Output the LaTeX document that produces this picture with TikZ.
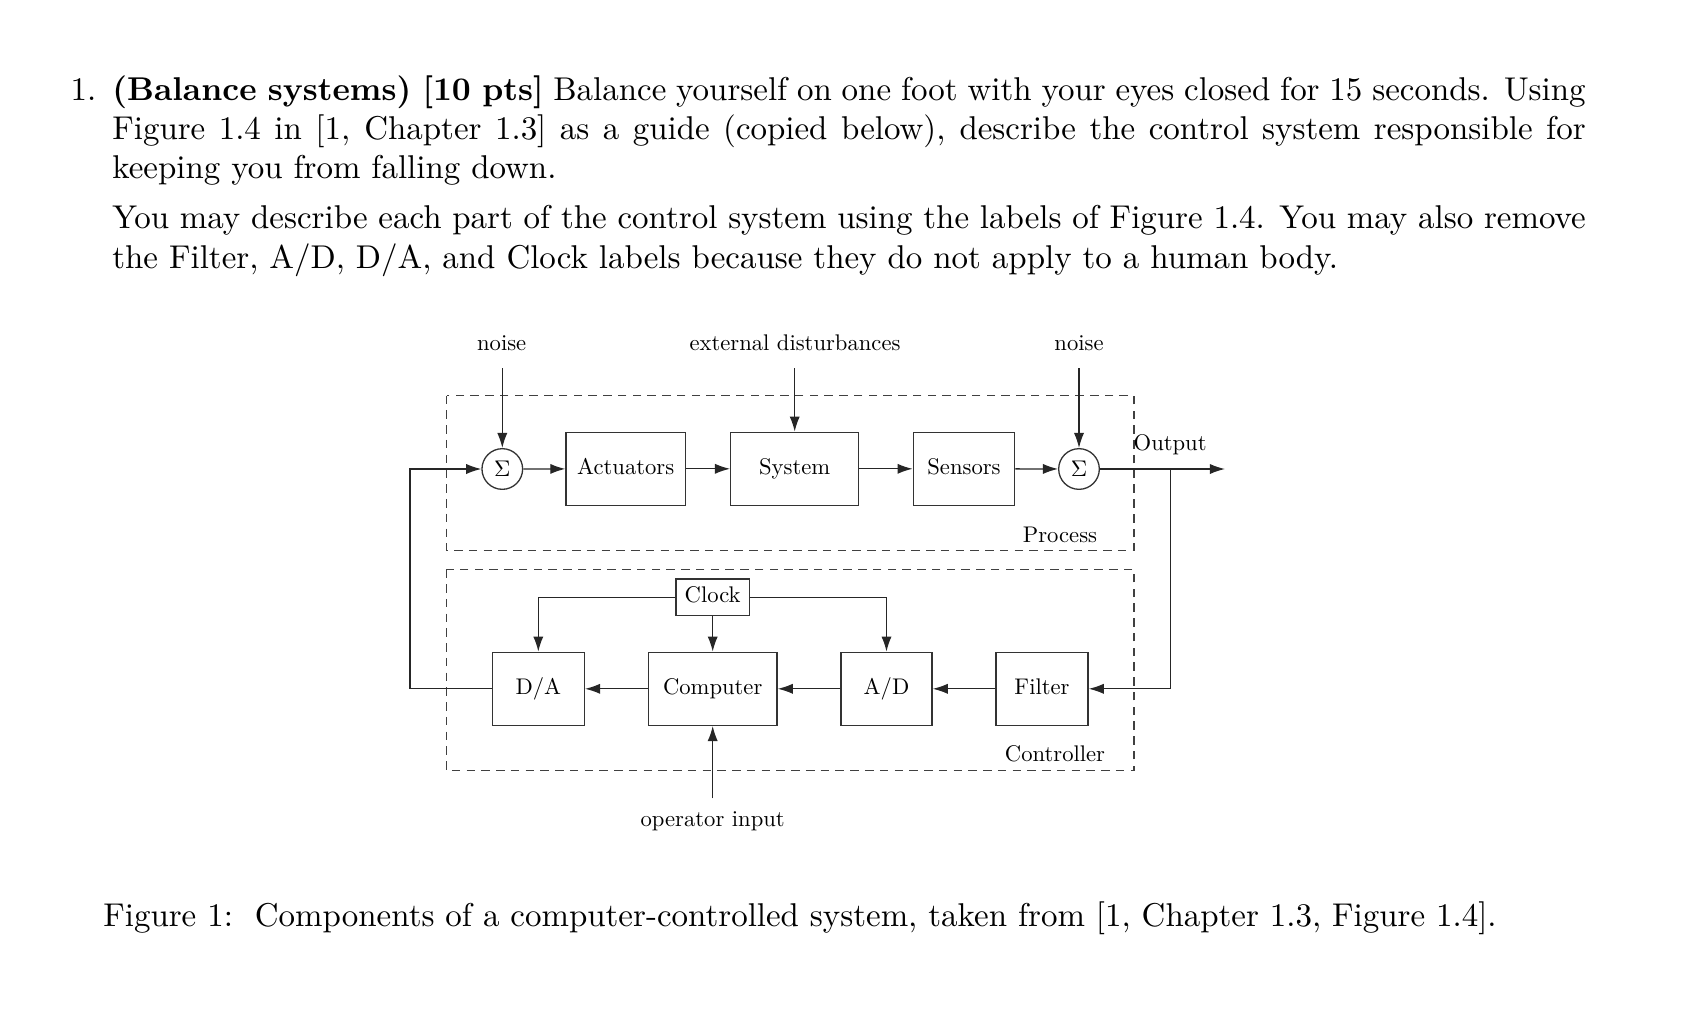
\documentclass[tikz,border=0pt]{standalone}
\usepackage{graphicx}
\usetikzlibrary{arrows.meta}
\newcommand{\dtext}[1]{\scalebox{0.69}{#1}}
\begin{document}
\begin{tikzpicture}[x=0.305pt,y=-0.305pt,
  line/.style={draw=black!85,line width=0.4pt},
  arr/.style={line,-{Latex[length=4.6pt,width=3.1pt]}},
  frame/.style={draw=black!75,line width=0.4pt,dash pattern=on 2.6pt off 1.9pt},
  blk/.style={draw=black!80,line width=0.4pt,rectangle,inner sep=0pt,minimum height=22.27pt,text height=4.8pt,text depth=1.4pt,font=\fontsize{10}{12}\selectfont},
  sumnode/.style={draw=black!80,line width=0.4pt,circle,inner sep=0pt,minimum size=12.4pt,font=\fontsize{10}{12}\selectfont},
  lbl/.style={inner sep=0pt,anchor=base,font=\fontsize{10}{12}\selectfont},
  txt/.style={inner sep=0pt,anchor=base west,font=\fontsize{10.05}{12}\selectfont}]
\useasboundingbox (0,0) rectangle (1700,1012);
% --- text ---
\node[txt] (num) at (70,100) {1.};
\node[txt] (l1) at (111.7,100) {\makebox[449.36pt][s]{\textbf{(Balance systems) [10 pts]} Balance yourself on one foot with your eyes closed for 15 seconds. Using}};
\node[txt] (l2) at (111.7,139.3) {\makebox[449.36pt][s]{Figure 1.4 in [1, Chapter 1.3] as a guide (copied below), describe the control system responsible for}};
\node[txt] (l3) at (111.7,178.3) {keeping you from falling down.};
\node[txt] (l4) at (111.7,228.3) {\makebox[449.36pt][s]{You may describe each part of the control system using the labels of Figure 1.4. You may also remove}};
\node[txt] (l5) at (111.7,268.3) {the Filter, A/D, D/A, and Clock labels because they do not apply to a human body.};
\node[txt] (cap) at (102.7,926.7) {Figure 1:\ \ Components of a computer-controlled system, taken from [1, Chapter 1.3, Figure 1.4].};
% --- frames ---
\draw[frame] (446.7,395.7) rectangle (1134,550.7);
\draw[frame] (446.7,569.3) rectangle (1134,770.7);
\node[lbl] (proc) at (1060,542.3) {\dtext{Process}};
\node[lbl] (ctrl) at (1055,761.7) {\dtext{Controller}};
% --- process row ---
\node[sumnode] (s1) at (502.3,469) {\dtext{$\Sigma$}};
\node[blk,minimum width=36.39pt] (act) at (625.7,468.8) {\dtext{Actuators}};
\node[blk,minimum width=39.04pt] (sys) at (794.7,468.8) {\dtext{System}};
\node[blk,minimum width=30.93pt] (sen) at (964,468.8) {\dtext{Sensors}};
\node[sumnode] (s2) at (1079,469) {\dtext{$\Sigma$}};
\node[lbl] (n1) at (501.7,350.7) {\dtext{noise}};
\node[lbl] (ext) at (795,350.7) {\dtext{external disturbances}};
\node[lbl] (n2) at (1079,350.7) {\dtext{noise}};
\coordinate (n1s) at (502.3,368.3);
\coordinate (exts) at (794.7,368.3);
\coordinate (n2s) at (1079,368.3);
\coordinate (out) at (1225,469);
\coordinate (br) at (1170.7,469);
\coordinate (brd) at (1170.7,688.8);
\coordinate (fbl) at (410,688.8);
\coordinate (fbu) at (410,469);
\node[inner sep=0pt,anchor=base west,font=\fontsize{10}{12}\selectfont] (outl) at (1133,450.7) {\dtext{Output}};
% --- controller row ---
\node[blk,minimum width=22.36pt,minimum height=11.07pt] (clk) at (712.7,597.2) {\dtext{Clock}};
\node[blk,minimum width=28.06pt] (da) at (538.3,688.8) {\dtext{D/A}};
\node[blk,minimum width=39.25pt] (comp) at (712.7,688.8) {\dtext{Computer}};
\node[blk,minimum width=27.76pt] (ad) at (886.5,688.8) {\dtext{A/D}};
\node[blk,minimum width=28.06pt] (filt) at (1042,688.8) {\dtext{Filter}};
\node[lbl] (op) at (712.7,826.7) {\dtext{operator input}};
\coordinate (ops) at (712.7,798.3);
% --- connectors ---
\draw[arr] (n1s) -- (s1);
\draw[arr] (exts) -- (sys);
\draw[arr] (n2s) -- (s2);
\draw[arr] (s1) -- (act);
\draw[arr] (act) -- (sys);
\draw[arr] (sys) -- (sen);
\draw[arr] (sen) -- (s2);
\draw[arr] (s2) -- (out);
\draw[arr] (br) -- (brd) -- (filt);
\draw[arr] (filt) -- (ad);
\draw[arr] (ad) -- (comp);
\draw[arr] (comp) -- (da);
\draw[arr] (da.west) -- (fbl) -- (fbu) -- (s1);
\draw[arr] (clk) -| (da);
\draw[arr] (clk) -- (comp);
\draw[arr] (clk) -| (ad);
\draw[arr] (ops) -- (comp);
\end{tikzpicture}
\end{document}
